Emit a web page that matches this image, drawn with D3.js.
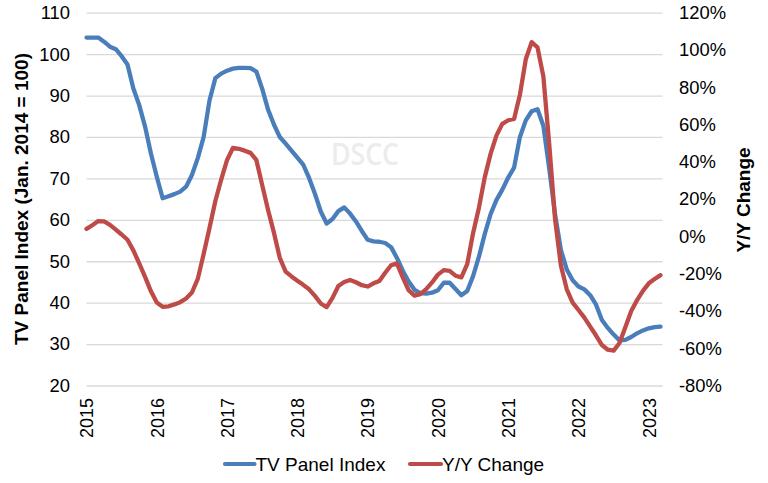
<!DOCTYPE html>
<html>
<head>
<meta charset="utf-8">
<script src="https://cdn.jsdelivr.net/npm/d3@7"></script>
<style>
  html, body { margin: 0; padding: 0; background: #fff; }
  svg { display: block; font-family: "Liberation Sans", Arial, sans-serif; }
</style>
</head>
<body>
<svg id="chart" width="768" height="483"></svg>
<script>
// ---- Data (monthly, Jan 2015 – Mar 2023) ----
const startMonth = new Date(2015, 0, 1);
const endMonth = new Date(2023, 3, 1); // exclusive
const months = d3.timeMonth.range(startMonth, endMonth);

const yearLabels = ["2015", "2016", "2017", "2018", "2019", "2020", "2021", "2022", "2023"];
const leftTicks = [20, 30, 40, 50, 60, 70, 80, 90, 100, 110];
const rightTicks = [-80, -60, -40, -20, 0, 20, 40, 60, 80, 100, 120];
const seriesNames = ["TV Panel Index", "Y/Y Change"];

const tvPanelIndex = [
  104, 104, 104, 103, 101.8, 101.2, 99.5, 97.5, 91.7, 87.7, 82.5, 76,
  70.4, 65.2, 65.7, 66.2, 66.8, 68, 70.8, 74.9, 80, 88.8, 94.2, 95.3,
  96, 96.5, 96.7, 96.7, 96.6, 95.8, 91.6, 86.6, 83, 80, 78.4, 76.7,
  75, 73.3, 70.1, 66.3, 62, 59.1, 60.2, 62.1, 63, 61.5, 59.6, 57.3,
  55.2, 54.8, 54.7, 54.4, 53.4, 50.8, 47.7, 45.1, 43.1, 42.3, 42.2, 42.4,
  43, 44.8, 44.8, 43.3, 41.8, 42.8, 46.4, 51.1, 56.6, 61.4, 64.8, 67.3,
  70.2, 72.6, 80, 84, 86.2, 86.7, 82.7, 72.4, 61.3, 52.7, 48, 45.4,
  43.9, 43.2, 41.8, 39.5, 35.8, 33.9, 32.3, 30.9, 31, 31.7, 32.6, 33.3,
  33.8, 34.1, 34.2
];

const yoyChange = [
  4, 6, 8.2, 8, 6.2, 3.6, 1, -1.8, -7.5, -14.5, -21.7, -29.5,
  -35.5, -37.8, -37.5, -36.5, -35.3, -33.3, -30.1, -22.8, -9.5, 4.5, 19, 30.5,
  41, 47.5, 47, 46, 44.8, 41, 27.5, 14.2, 2, -11.5, -18.9, -21.5,
  -23.8, -26, -28.4, -31.9, -36, -38, -33, -26.6, -24.5, -23.4, -24.6, -26.2,
  -26.9, -25.2, -23.9, -19.5, -15.5, -14.5, -22, -28.9, -31.8, -31, -28.3, -24.7,
  -20.5, -18.1, -18.5, -21.1, -22, -14.9, 1.7, 15.4, 31.8, 44.4, 54.2, 60.4,
  62.3, 63, 76, 95, 104.2, 101.4, 85.8, 49.6, 9.2, -15.8, -28.4, -35.5,
  -39.5, -43.6, -48.4, -53.2, -58.3, -60.8, -61.3, -57.2, -48.7, -40, -34.2, -29.2,
  -25.2, -22.9, -20.8
];

// ---- Layout ----
const svg = d3.select("#chart");
const plot = { left: 86.5, right: 662.5, top: 12.7, bottom: 385.5 };
const colors = { blue: "#4A7EBB", red: "#BE4B48", grid: "#D9D9D9", text: "#000000" };

const idx = d3.range(months.length);
const x = d3.scaleLinear().domain([0, months.length - 1]).range([plot.left, 660.5]);
const yL = d3.scaleLinear().domain([20, 110]).range([plot.bottom, plot.top]);
const yR = d3.scaleLinear().domain([-80, 120]).range([plot.bottom, plot.top]);

// Gridlines
svg.append("g")
  .attr("transform", `translate(${plot.left},0)`)
  .call(d3.axisLeft(yL).tickValues(leftTicks).tickSize(-(plot.right - plot.left)).tickFormat(""))
  .call(g => g.select(".domain").remove())
  .call(g => g.selectAll("line").attr("stroke", colors.grid).attr("stroke-width", 1.3));

// Left tick labels
svg.append("g")
  .attr("transform", `translate(70,0)`)
  .call(d3.axisLeft(yL).tickValues(leftTicks).tickSize(0).tickPadding(0))
  .call(g => g.select(".domain").remove())
  .call(g => g.selectAll("text")
    .attr("fill", colors.text)
    .style("font-size", "18.4px")
    .style("font-family", "'Liberation Sans', Arial, sans-serif"));

// Right tick labels
svg.append("g")
  .attr("transform", `translate(679,0)`)
  .call(d3.axisRight(yR).tickValues(rightTicks).tickSize(0).tickPadding(0).tickFormat(d => d + "%"))
  .call(g => g.select(".domain").remove())
  .call(g => g.selectAll("text")
    .attr("fill", colors.text)
    .style("font-size", "18.4px")
    .style("font-family", "'Liberation Sans', Arial, sans-serif"));

// X axis year labels (rotated)
const yearIdx = idx.filter(i => months[i].getMonth() === 0);
svg.append("g")
  .attr("transform", `translate(0,398)`)
  .call(d3.axisBottom(x).tickValues(yearIdx).tickSize(0).tickPadding(0)
    .tickFormat(i => yearLabels[yearIdx.indexOf(i)]))
  .call(g => g.select(".domain").remove())
  .call(g => g.selectAll("text")
    .attr("fill", colors.text)
    .style("font-size", "18px")
    .style("font-family", "'Liberation Sans', Arial, sans-serif")
    .attr("transform", "rotate(-90)")
    .attr("text-anchor", "end")
    .attr("x", 0)
    .attr("y", 0)
    .attr("dy", "0.35em"));

// Watermark
svg.append("text")
  .attr("x", 331).attr("y", 165)
  .attr("textLength", 68).attr("lengthAdjust", "spacingAndGlyphs")
  .style("font-family", "'Open Sans', sans-serif")
  .style("font-size", "30px").style("font-weight", "600")
  .attr("fill", "#ECECEC")
  .text("DSCC");

// Lines
const lineL = d3.line().x(i => x(i)).y(i => yL(tvPanelIndex[i]));
const lineR = d3.line().x(i => x(i)).y(i => yR(yoyChange[i]));

svg.append("path")
  .attr("d", lineL(idx))
  .attr("fill", "none").attr("stroke", colors.blue)
  .attr("stroke-width", 4.3).attr("stroke-linejoin", "round").attr("stroke-linecap", "round");

svg.append("path")
  .attr("d", lineR(idx))
  .attr("fill", "none").attr("stroke", colors.red)
  .attr("stroke-width", 4.3).attr("stroke-linejoin", "round").attr("stroke-linecap", "round");

// Axis titles
svg.append("text")
  .attr("transform", "translate(28,199) rotate(-90)")
  .attr("text-anchor", "middle")
  .style("font-size", "19px").style("font-weight", "bold")
  .attr("fill", colors.text)
  .text("TV Panel Index (Jan. 2014 = 100)");

svg.append("text")
  .attr("transform", "translate(750,200) rotate(-90)")
  .attr("text-anchor", "middle")
  .style("font-size", "19px").style("font-weight", "bold")
  .attr("fill", colors.text)
  .text("Y/Y Change");

// Legend
const legendItems = [
  { name: seriesNames[0], color: colors.blue, x0: 225, x1: 254.5 },
  { name: seriesNames[1], color: colors.red, x0: 410, x1: 441 }
];
const lg = svg.append("g");
legendItems.forEach(d => {
  lg.append("line")
    .attr("x1", d.x0).attr("x2", d.x1).attr("y1", 464).attr("y2", 464)
    .attr("stroke", d.color).attr("stroke-width", 4.2).attr("stroke-linecap", "round");
  lg.append("text")
    .attr("x", d.x1 + 1).attr("y", 470.5)
    .style("font-size", "19px")
    .attr("fill", colors.text)
    .text(d.name);
});
</script>
</body>
</html>
